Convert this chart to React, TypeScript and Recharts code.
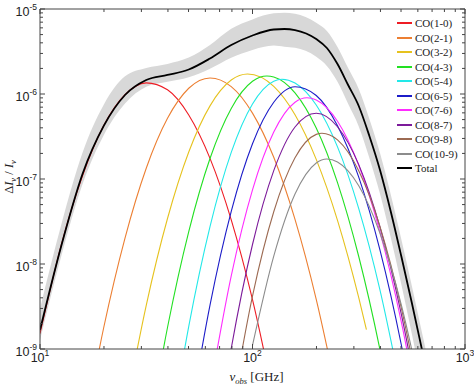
import { ComposedChart, Line, Area, XAxis, YAxis, Legend } from 'recharts';

// total intensity and its uncertainty band, on a log frequency grid [GHz]
const totalFreq = [10, 12.59, 15.85, 19.95, 25.12, 31.62, 39.81, 50.12, 63.1, 79.43, 100, 125.9, 141.3, 158.5, 199.5, 223.9, 251.2, 281.8, 316.2, 354.8, 398.1, 446.7, 501.2, 562.3, 631, 707.9];
const totalVal = [1.67e-9, 1.63e-8, 1.145e-7, 4.21e-7, 9.73e-7, 1.462e-6, 1.675e-6, 1.942e-6, 2.618e-6, 3.77e-6, 4.88e-6, 5.74e-6, 5.82e-6, 5.66e-6, 4.44e-6, 3.48e-6, 2.25e-6, 1.276e-6, 7.23e-7, 3.21e-7, 1.276e-7, 4.21e-8, 1.24e-8, 3.47e-9, 9.2e-10, 2.5e-10];
const bandLo = [1.27e-9, 1.236e-8, 8.69e-8, 3.27e-7, 7.73e-7, 1.216e-6, 1.393e-6, 1.578e-6, 1.986e-6, 2.67e-6, 3.3e-6, 3.71e-6, 3.59e-6, 3.49e-6, 2.74e-6, 2.14e-6, 1.39e-6, 7.69e-7, 4.16e-7, 1.762e-7, 6.7e-8, 2.08e-8, 5.81e-9, 1.5e-9, 3.67e-10, 1e-10];
const bandHi = [2.98e-9, 2.9e-8, 2.04e-7, 7.48e-7, 1.614e-6, 2.02e-6, 2.26e-6, 2.68e-6, 3.78e-6, 5.84e-6, 7.55e-6, 8.89e-6, 9.02e-6, 8.77e-6, 6.87e-6, 5.51e-6, 3.57e-6, 2.02e-6, 1.146e-6, 5.08e-7, 2.02e-7, 6.67e-8, 1.97e-8, 5.51e-9, 1.46e-9, 3.98e-10];

// [frequency GHz, dI/I] per line
const co10 = [[10, 1.52e-9], [12.59, 1.67e-8], [15.85, 1.093e-7], [19.95, 4.25e-7], [25.12, 9.83e-7], [31.62, 1.353e-6], [39.81, 1.12e-6], [50.12, 5.66e-7], [63.1, 1.747e-7], [79.43, 3.3e-8], [100, 3.8e-9], [125.9, 2.67e-10]];
const co21 = [[15.85, 9.2e-11], [19.95, 1.79e-9], [25.12, 2.02e-8], [31.62, 1.338e-7], [39.81, 5.17e-7], [50.12, 1.168e-6], [63.1, 1.542e-6], [79.43, 1.221e-6], [100, 5.96e-7], [125.9, 1.799e-7], [158.5, 3.35e-8], [199.5, 3.84e-9], [251.2, 2.72e-10]];
const co32 = [[25.12, 1.79e-10], [31.62, 3.27e-9], [39.81, 3.43e-8], [50.12, 2.077e-7], [63.1, 7.25e-7], [79.43, 1.459e-6], [94.8, 1.718e-6], [125.9, 1.229e-6], [158.5, 5.71e-7], [199.5, 1.703e-7], [251.2, 3.26e-8], [316.2, 4.01e-9], [343.6, 1.69e-9]];
const co43 = [[31.62, 7.1e-11], [39.81, 1.79e-9], [50.12, 2.41e-8], [63.1, 1.744e-7], [79.43, 6.77e-7], [100, 1.411e-6], [116.9, 1.629e-6], [125.9, 1.586e-6], [158.5, 1.032e-6], [199.5, 3.98e-7], [251.2, 9.07e-8], [316.2, 1.225e-8], [398.1, 9.8e-10], [501.2, 4.6e-11]];
const co54 = [[39.81, 6.2e-11], [50.12, 1.85e-9], [63.1, 2.76e-8], [79.43, 2.054e-7], [100, 7.63e-7], [125.9, 1.414e-6], [137.6, 1.489e-6], [158.5, 1.346e-6], [199.5, 7.41e-7], [251.2, 2.385e-7], [316.2, 4.49e-8], [398.1, 4.94e-9], [501.2, 3.18e-10]];
const co65 = [[50.12, 1.28e-10], [63.1, 3.29e-9], [79.43, 4.16e-8], [100, 2.598e-7], [125.9, 7.99e-7], [158.5, 1.216e-6], [199.5, 9.6e-7], [251.2, 4.24e-7], [316.2, 1.051e-7], [398.1, 1.457e-8], [501.2, 1.13e-9], [631, 4.9e-11]];
const co76 = [[63.1, 3.31e-10], [79.43, 7.26e-9], [100, 7.45e-8], [125.9, 3.57e-7], [158.5, 8.01e-7], [180.4, 9.04e-7], [199.5, 8.52e-7], [251.2, 4.78e-7], [316.2, 1.449e-7], [398.1, 2.375e-8], [501.2, 2.1e-9], [631, 1.0e-10]];
const co87 = [[63.1, 2.7e-11], [79.43, 1.017e-9], [100, 1.696e-8], [125.9, 1.253e-7], [158.5, 4.09e-7], [199.5, 5.93e-7], [251.2, 4.12e-7], [316.2, 1.476e-7], [398.1, 2.72e-8], [501.2, 2.59e-9], [631, 1.27e-10]];
const co98 = [[79.43, 1.86e-10], [100, 4.19e-9], [125.9, 4.12e-8], [158.5, 1.777e-7], [199.5, 3.35e-7], [212.3, 3.45e-7], [251.2, 2.88e-7], [316.2, 1.248e-7], [398.1, 2.75e-8], [501.2, 3.07e-9], [631, 1.75e-10]];
const co109 = [[100, 1.1e-9], [125.9, 1.235e-8], [158.5, 6.65e-8], [199.5, 1.545e-7], [224, 1.718e-7], [251.2, 1.586e-7], [316.2, 8.34e-8], [398.1, 2.3e-8], [501.2, 3.33e-9], [631, 2.54e-10]];

const xTicks = [10, 20, 30, 40, 50, 60, 70, 80, 90, 100, 200, 300, 400, 500, 600, 700, 800, 900, 1000];
const yTicks = [
  1e-9, 2e-9, 3e-9, 4e-9, 5e-9, 6e-9, 7e-9, 8e-9, 9e-9,
  1e-8, 2e-8, 3e-8, 4e-8, 5e-8, 6e-8, 7e-8, 8e-8, 9e-8,
  1e-7, 2e-7, 3e-7, 4e-7, 5e-7, 6e-7, 7e-7, 8e-7, 9e-7,
  1e-6, 2e-6, 3e-6, 4e-6, 5e-6, 6e-6, 7e-6, 8e-6, 9e-6,
  1e-5,
];

const series = [
  { name: 'CO(1-0)', color: '#ee1c24', pts: co10 },
  { name: 'CO(2-1)', color: '#ec7f32', pts: co21 },
  { name: 'CO(3-2)', color: '#e6c21e', pts: co32 },
  { name: 'CO(4-3)', color: '#22e022', pts: co43 },
  { name: 'CO(5-4)', color: '#22e8e8', pts: co54 },
  { name: 'CO(6-5)', color: '#1c1cc8', pts: co65 },
  { name: 'CO(7-6)', color: '#ff2cff', pts: co76 },
  { name: 'CO(8-7)', color: '#7c1a9a', pts: co87 },
  { name: 'CO(9-8)', color: '#9c6a52', pts: co98 },
  { name: 'CO(10-9)', color: '#8c8c8c', pts: co109 },
];

const totalRows = totalFreq.map((f, i) => ({ f, total: totalVal[i], band: [bandLo[i], bandHi[i]] }));

const AXIS = '#444';
const TICK_FONT = '"Liberation Sans", Arial, sans-serif';
const SERIF = '"Liberation Serif", "DejaVu Serif", serif';

const isDecade = (v: number) => Math.abs(Math.log10(v) - Math.round(Math.log10(v))) < 1e-6;
const tickLen = (v: number) => (isDecade(v) ? 5 : 3);

const Pow = ({ v }: { v: number }) => (
  <>
    10
    <tspan dy={-6} fontSize={8.5}>
      {Math.round(Math.log10(v))}
    </tspan>
  </>
);

const BottomTick = ({ x, y, payload }: any) => (
  <g>
    <line x1={x} x2={x} y1={y} y2={y - tickLen(payload.value)} stroke={AXIS} />
    {isDecade(payload.value) && (
      <text x={x} y={y + 13} textAnchor="middle" fontSize={12.5} fontFamily={TICK_FONT} fill="#222">
        <Pow v={payload.value} />
      </text>
    )}
  </g>
);

const TopTick = ({ x, y, payload }: any) => (
  <line x1={x} x2={x} y1={y} y2={y + tickLen(payload.value)} stroke={AXIS} />
);

const LeftTick = ({ x, y, payload }: any) => (
  <g>
    <line x1={x} x2={x + tickLen(payload.value)} y1={y} y2={y} stroke={AXIS} />
    {isDecade(payload.value) && (
      <text x={x - 3} y={y + 7} textAnchor="end" fontSize={12.5} fontFamily={TICK_FONT} fill="#222">
        <Pow v={payload.value} />
      </text>
    )}
  </g>
);

const RightTick = ({ x, y, payload }: any) => (
  <line x1={x} x2={x - tickLen(payload.value)} y1={y} y2={y} stroke={AXIS} />
);

const XTitle = ({ viewBox }: any) => (
  <text x={viewBox.x + viewBox.width / 2 + 4} y={viewBox.y + 32} textAnchor="middle" fontSize={13} fontFamily={SERIF} fill="#222">
    <tspan fontStyle="italic">ν</tspan>
    <tspan fontStyle="italic" fontSize={8.5} dy={3}>obs</tspan>
    <tspan dy={-3}> [GHz]</tspan>
  </text>
);

const YTitle = ({ viewBox }: any) => {
  const cx = viewBox.x + 13;
  const cy = viewBox.y + viewBox.height / 2 - 2;
  return (
    <text x={cx} y={cy} transform={`rotate(-90 ${cx} ${cy})`} textAnchor="middle" fontSize={12.5} fontFamily={SERIF} fill="#222">
      Δ<tspan fontStyle="italic">I</tspan>
      <tspan fontStyle="italic" fontSize={8.5} dy={2.5}>ν</tspan>
      <tspan dy={-2.5}> / </tspan>
      <tspan fontStyle="italic">I</tspan>
      <tspan fontStyle="italic" fontSize={8.5} dy={2.5}>ν</tspan>
    </text>
  );
};

const LegendBox = () => (
  <div style={{ fontFamily: SERIF, fontSize: 11, color: '#222', lineHeight: '14.5px' }}>
    {[...series.map((s) => ({ name: s.name, color: s.color })), { name: 'Total', color: '#000' }].map((it) => (
      <div key={it.name} style={{ display: 'flex', alignItems: 'center', height: 14.5 }}>
        <div style={{ width: 15, height: 2, background: it.color, marginRight: 3, flex: 'none' }} />
        <span>{it.name}</span>
      </div>
    ))}
  </div>
);

export default function App() {
  return (
    <div style={{ position: 'absolute', left: 0, top: 0, width: 474, height: 386, background: '#fff' }}>
      <ComposedChart width={474} height={386} data={totalRows} margin={{ top: 8, right: 8, bottom: 0, left: 0 }}>
        <XAxis
          dataKey="f"
          type="number"
          scale="log"
          domain={[10, 1000]}
          allowDataOverflow
          ticks={xTicks}
          interval={0}
          tickSize={0}
          tickMargin={0}
          tick={<BottomTick />}
          axisLine={{ stroke: AXIS }}
          height={37}
          label={{ content: <XTitle /> }}
        />
        <XAxis
          xAxisId="t"
          orientation="top"
          dataKey="f"
          type="number"
          scale="log"
          domain={[10, 1000]}
          allowDataOverflow
          ticks={xTicks}
          interval={0}
          tickSize={0}
          tickMargin={0}
          tick={<TopTick />}
          axisLine={{ stroke: AXIS }}
          height={1}
        />
        <YAxis
          type="number"
          scale="log"
          domain={[1e-9, 1e-5]}
          allowDataOverflow
          ticks={yTicks}
          interval={0}
          tickSize={0}
          tickMargin={0}
          tick={<LeftTick />}
          axisLine={{ stroke: AXIS }}
          width={40}
          label={{ content: <YTitle /> }}
        />
        <YAxis
          yAxisId="r"
          orientation="right"
          type="number"
          scale="log"
          domain={[1e-9, 1e-5]}
          allowDataOverflow
          ticks={yTicks}
          interval={0}
          tickSize={0}
          tickMargin={0}
          tick={<RightTick />}
          axisLine={{ stroke: AXIS }}
          width={1}
        />
        <Area dataKey="band" type="monotone" fill="#d8d8d8" fillOpacity={1} stroke="none" isAnimationActive={false} />
        {series.map((s) => (
          <Line
            key={s.name}
            data={s.pts.map(([f, v]) => ({ f, v }))}
            dataKey="v"
            name={s.name}
            type="monotone"
            stroke={s.color}
            strokeWidth={1.1}
            dot={false}
            activeDot={false}
            isAnimationActive={false}
          />
        ))}
        <Line dataKey="total" name="Total" type="monotone" stroke="#000" strokeWidth={1.8} dot={false} activeDot={false} isAnimationActive={false} />
        <Legend
          layout="vertical"
          align="center"
          verticalAlign="middle"
          content={<LegendBox />}
          wrapperStyle={{ left: 397, top: 16, width: 76, height: 'auto' }}
        />
      </ComposedChart>
    </div>
  );
}
